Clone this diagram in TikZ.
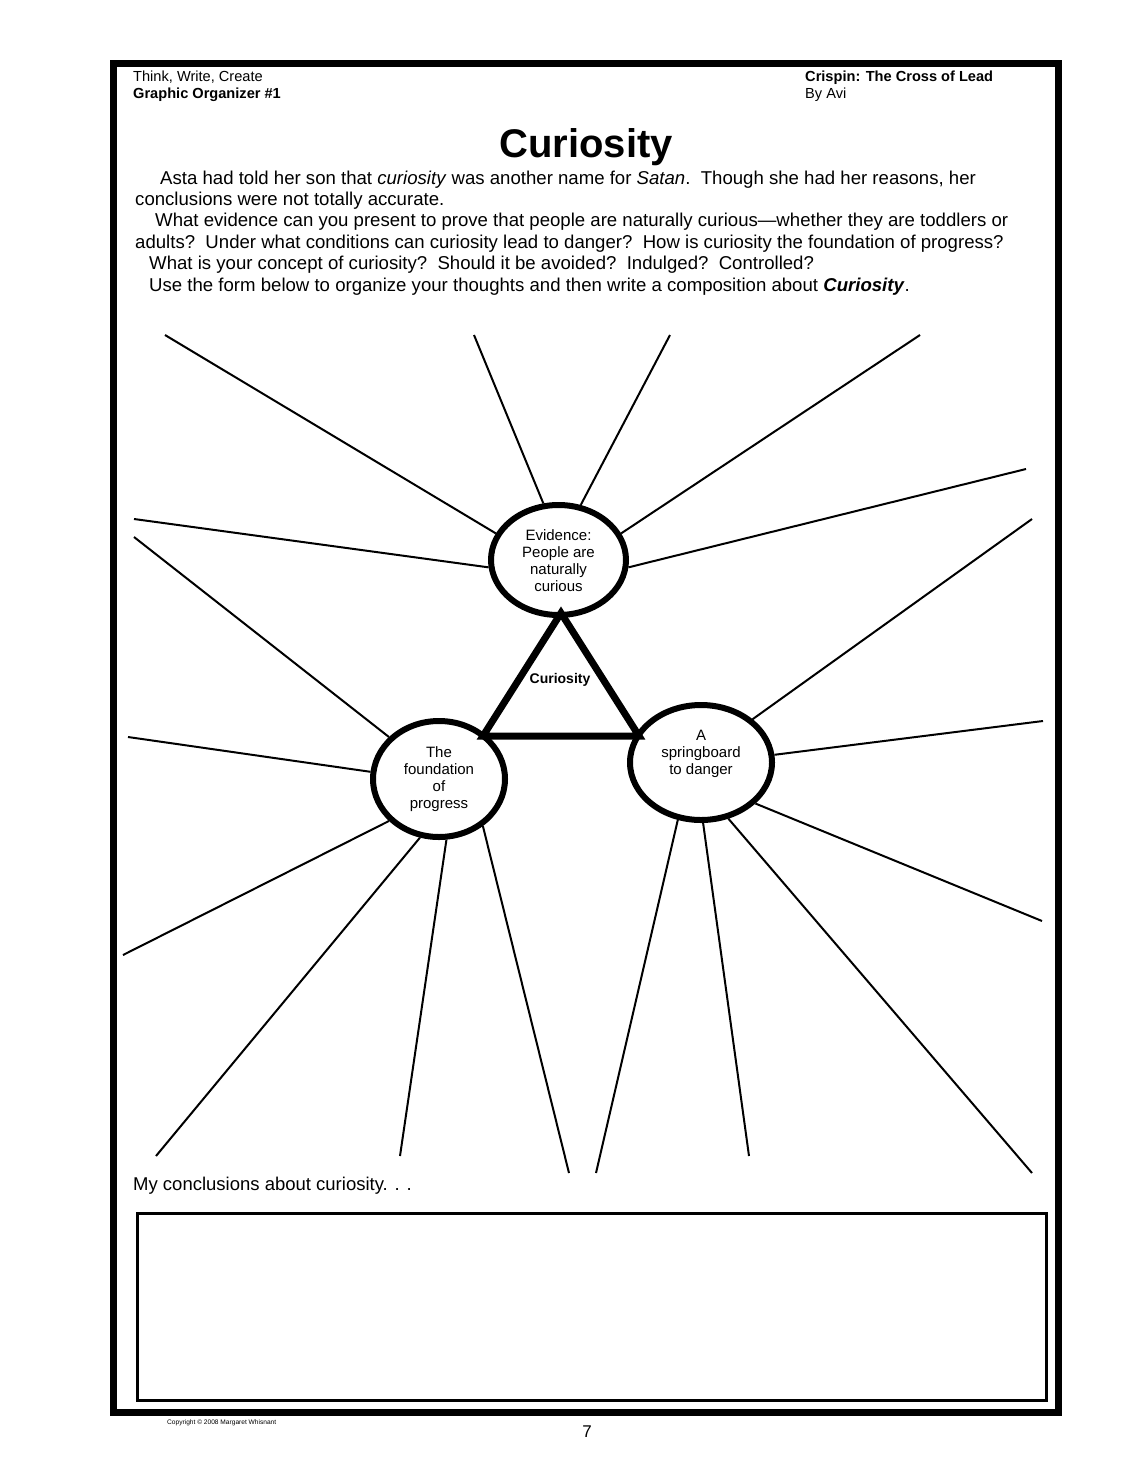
\documentclass[tikz,border=0pt]{standalone}
\usepackage{fontspec}
\setmainfont{Liberation Sans}
\usetikzlibrary{shapes.geometric}
\begin{document}
\begin{tikzpicture}[x=1pt,y=-1pt,
  bub/.style={ellipse,draw,line width=6pt,fill=white,inner sep=0pt},
  spoke/.style={line width=2pt},
  tri/.style={line width=7pt,line join=miter,fill=white},
  hdr/.style={font=\fontsize{14.6}{16}\selectfont,anchor=base west,inner sep=0pt},
  body/.style={font=\fontsize{18.6}{21.5}\selectfont,anchor=base west,inner sep=0pt},
  lbl/.style={font=\fontsize{15}{17}\selectfont,align=center,inner sep=0pt}]
\useasboundingbox (0,0) rectangle (1140,1475);
\fill[white] (0,0) rectangle (1140,1475);
% frame
\draw[line width=7pt] (113.5,63.5) rectangle (1058.5,1412.5);
% header
\node[hdr] (h1) at (133,81) {Think, Write, Create};
\node[hdr] (h2) at (133,98) {\textbf{Graphic Organizer \#1}};
\node[hdr] (h3) at (805,81) {\textbf{Crispin: The Cross of Lead}};
\node[hdr] (h4) at (805,98) {By Avi};
\node[font=\fontsize{40}{44}\bfseries\selectfont,anchor=base,inner sep=0pt] (title) at (586,157) {Curiosity};
% body
\node[body] (b1) at (160,184) {Asta had told her son that \textit{curiosity} was another name for \textit{Satan}.\ \ Though she had her reasons, her};
\node[body] (b2) at (135,205.4) {conclusions were not totally accurate.};
\node[body] (b3) at (155,226.8) {What evidence can you present to prove that people are naturally curious—whether they are toddlers or};
\node[body] (b4) at (135,248.2) {adults?\ \ Under what conditions can curiosity lead to danger?\ \ How is curiosity the foundation of progress?};
\node[body] (b5) at (149,269.6) {What is your concept of curiosity?\ \ Should it be avoided?\ \ Indulged?\ \ Controlled?};
\node[body] (b6) at (149,291) {Use the form below to organize your thoughts and then write a composition about \textbf{\textit{Curiosity}}.};
% bubbles
\node[bub,minimum width=135pt,minimum height=110pt] (ev) at (558.5,560) {};
\node[bub,minimum width=132pt,minimum height=116pt] (fp) at (439,779) {};
\node[bub,minimum width=142pt,minimum height=115pt] (sd) at (701,762.5) {};
% outer ends of spokes
\coordinate (e1) at (165,335);
\coordinate (e2) at (474,335);
\coordinate (e3) at (670,335);
\coordinate (e4) at (920,335);
\coordinate (e5) at (1026,469);
\coordinate (e6) at (134,519);
\coordinate (f1) at (134,537);
\coordinate (f2) at (128,737);
\coordinate (f3) at (123,955);
\coordinate (f4) at (156,1156);
\coordinate (f5) at (400,1156);
\coordinate (f6) at (569,1173);
\coordinate (s1) at (1032,519);
\coordinate (s2) at (1043,721);
\coordinate (s3) at (1042,921);
\coordinate (s4) at (1032,1173);
\coordinate (s5) at (749,1156);
\coordinate (s6) at (596,1173);
% spokes
\draw[spoke] (e1) -- (ev.157.6);
\draw[spoke] (e2) -- (ev.105.9);
\draw[spoke] (e3) -- (ev.68.5);
\draw[spoke] (e4) -- (ev.23.5);
\draw[spoke] (e5) -- (ev.-6.4);
\draw[spoke] (e6) -- (ev.186.4);
\draw[spoke] (f1) -- (fp.140);
\draw[spoke] (f2) -- (fp.174.4);
\draw[spoke] (f3) -- (fp.220.7);
\draw[spoke] (f4) -- (fp.252.2);
\draw[spoke] (f5) -- (fp.277.5);
\draw[spoke] (f6) -- (fp.313.8);
\draw[spoke] (s1) -- (sd.40.6);
\draw[spoke] (s2) -- (sd.6.5);
\draw[spoke] (s3) -- (sd.-37.2);
\draw[spoke] (s4) -- (sd.-64.8);
\draw[spoke] (s5) -- (sd.-88.1);
\draw[spoke] (s6) -- (sd.-112.7);
% triangle
\coordinate (ta) at (561,613);
\coordinate (tr) at (639,736);
\coordinate (tl) at (483,736);
\draw[tri] (ta) -- (tr) -- (tl) -- cycle;
\node[font=\fontsize{14}{16}\bfseries\selectfont,inner sep=0pt] (cur) at (560,680) {Curiosity};
% bubble texts
\node[lbl] (evt) at (558.5,561) {Evidence:\\People are\\naturally\\curious};
\node[lbl] (fpt) at (439,779.5) {The\\foundation\\of\\progress};
\node[lbl] (sdt) at (701,754) {A\\springboard\\to danger};
% conclusions
\node[font=\fontsize{18.5}{21}\selectfont,anchor=base west,inner sep=0pt] (conc) at (133,1190) {My conclusions about curiosity. . .};
\node[draw,line width=3pt,minimum width=909pt,minimum height=187pt,inner sep=0pt] (cbox) at (591.5,1306.5) {};
% footer
\node[font=\fontsize{6.6}{8}\selectfont,anchor=base west,inner sep=0pt] (copy) at (167,1424) {Copyright © 2008 Margaret Whisnant};
\node[font=\fontsize{17}{19}\selectfont,anchor=base,inner sep=0pt] (pg) at (587,1437) {7};
\end{tikzpicture}
\end{document}
